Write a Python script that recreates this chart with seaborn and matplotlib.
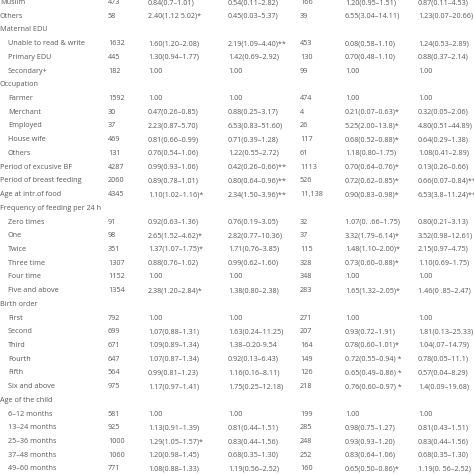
import matplotlib
matplotlib.use("Agg")
import matplotlib.pyplot as plt
import seaborn as sns

sns.set_theme(style="white")
plt.rcParams['font.family'] = ['Open Sans', 'DejaVu Sans']

labels = ["Muslim", "Others", "Maternal EDU", "Unable to read & write", "Primary EDU", "Secondary+",
          "Occupation", "Farmer", "Merchant", "Employed", "House wife", "Others",
          "Period of excusive BF", "Period of breast feeding", "Age at intr.of food",
          "Frequency of feeding per 24 h", "Zero times", "One", "Twice", "Three time", "Four time",
          "Five and above", "Birth order", "First", "Second", "Third", "Fourth", "Fifth",
          "Six and above", "Age of the child", "6–12 months", "13–24 months", "25–36 months",
          "37–48 months", "49–60 months"]
indented = [0,0,0,1,1,1,0,1,1,1,1,1,0,0,0,0,1,1,1,1,1,1,0,1,1,1,1,1,1,0,1,1,1,1,1]
n1 = ["473","58","","1632","445","182","","1592","30","37","469","131","4287","2060","4345","",
      "91","98","351","1307","1152","1354","","792","699","671","647","564","975","",
      "581","925","1000","1060","771"]
cor1 = ["0.84(0.7–1.01)","2.40(1.12 5.02)*","","1.60(1.20–2.08)","1.30(0.94–1.77)","1.00","",
        "1.00","0.47(0.26–0.85)","2.23(0.87–5.70)","0.81(0.66–0.99)","0.76(0.54–1.06)",
        "0.99(0.93–1.06)","0.89(0.78–1.01)","1.10(1.02–1.16)*","",
        "0.92(0.63–1.36)","2.65(1.52–4.62)*","1.37(1.07–1.75)*","0.88(0.76–1.02)","1.00",
        "2.38(1.20–2.84)*","","1.00","1.07(0.88–1.31)","1.09(0.89–1.34)","1.07(0.87–1.34)",
        "0.99(0.81–1.23)","1.17(0.97–1.41)","","1.00","1.13(0.91–1.39)","1.29(1.05–1.57)*",
        "1.20(0.98–1.45)","1.08(0.88–1.33)"]
aor1 = ["0.54(0.11–2.82)","0.45(0.03–5.37)","","2.19(1.09–4.40)**","1.42(0.69–2.92)","1.00","",
        "1.00","0.88(0.25–3.17)","6.53(0.83–51.60)","0.71(0.39–1.28)","1.22(0.55–2.72)",
        "0.42(0.26–0.66)**","0.80(0.64–0.96)**","2.34(1.50–3.96)**","",
        "0.76(0.19–3.05)","2.82(0.77–10.36)","1.71(0.76–3.85)","0.99(0.62–1.60)","1.00",
        "1.38(0.80–2.38)","","1.00","1.63(0.24–11.25)","1.38–0.20-9.54","0.92(0.13–6.43)",
        "1.16(0.16–8.11)","1.75(0.25–12.18)","","1.00","0.81(0.44–1.51)","0.83(0.44–1.56)",
        "0.68(0.35–1.30)","1.19(0.56–2.52)"]
n2 = ["166","39","","453","130","99","","474","4","26","117","61","1113","526","11,138","",
      "32","37","115","328","348","283","","271","207","164","149","126","218","",
      "199","285","248","252","160"]
cor2 = ["1.20(0.95–1.51)","6.55(3.04–14.11)","","0.08(0.58–1.10)","0.70(0.48–1.10)","1.00","",
        "1.00","0.21(0.07–0.63)*","5.25(2.00–13.8)*","0.68(0.52–0.88)*","1.18(0.80–1.75)",
        "0.70(0.64–0.76)*","0.72(0.62–0.85)*","0.90(0.83–0.98)*","",
        "1.07(0. .66–1.75)","3.32(1.79–6.14)*","1.48(1.10–2.00)*","0.73(0.60–0.88)*","1.00",
        "1.65(1.32–2.05)*","","1.00","0.93(0.72–1.91)","0.78(0.60–1.01)*","0.72(0.55–0.94) *",
        "0.65(0.49–0.86) *","0.76(0.60–0.97) *","","1.00","0.98(0.75–1.27)","0.93(0.93–1.20)",
        "0.83(0.64–1.06)","0.65(0.50–0.86)*"]
aor2 = ["0.87(0.11–4.53)","1.23(0.07–20.66)","","1.24(0.53–2.89)","0.88(0.37–2.14)","1.00","",
        "1.00","0.32(0.05–2.06)","4.80(0.51–44.89)","0.64(0.29–1.38)","1.08(0.41–2.89)",
        "0.13(0.26–0.66)","0.66(0.07–0.84)**","6.53(3.8–11.24)**","",
        "0.80(0.21–3.13)","3.52(0.98–12.61)","2.15(0.97–4.75)","1.10(0.69–1.75)","1.00",
        "1.46(0 .85–2.47)","","1.00","1.81(0.13–25.33)","1.04(.07–14.79)","0.78(0.05–11.1)",
        "0.57(0.04–8.29)","1.4(0.09–19.68)","","1.00","0.81(0.43–1.51)","0.83(0.44–1.56)",
        "0.68(0.35–1.30)","1.19(0. 56–2.52)"]

fig = plt.figure(figsize=(4.74, 4.74), dpi=100)
ax = fig.add_axes([0, 0, 1, 1])
ax.set_xlim(0, 474)
ax.set_ylim(474, 0)
ax.axis("off")

col_x = [108, 148, 228, 300, 345, 418]
color = "#5a5a5a"
fs = 5.2
y0, dy = 2.5, 13.72
for i, lab in enumerate(labels):
    y = y0 + i * dy
    ax.text(8 if indented[i] else 0, y, lab, fontsize=fs, color=color, va="center", ha="left")
    for x, col in zip(col_x, [n1, cor1, aor1, n2, cor2, aor2]):
        if col[i]:
            ax.text(x, y, col[i], fontsize=fs, color=color, va="center", ha="left")

fig.savefig("out.png", dpi=100)
